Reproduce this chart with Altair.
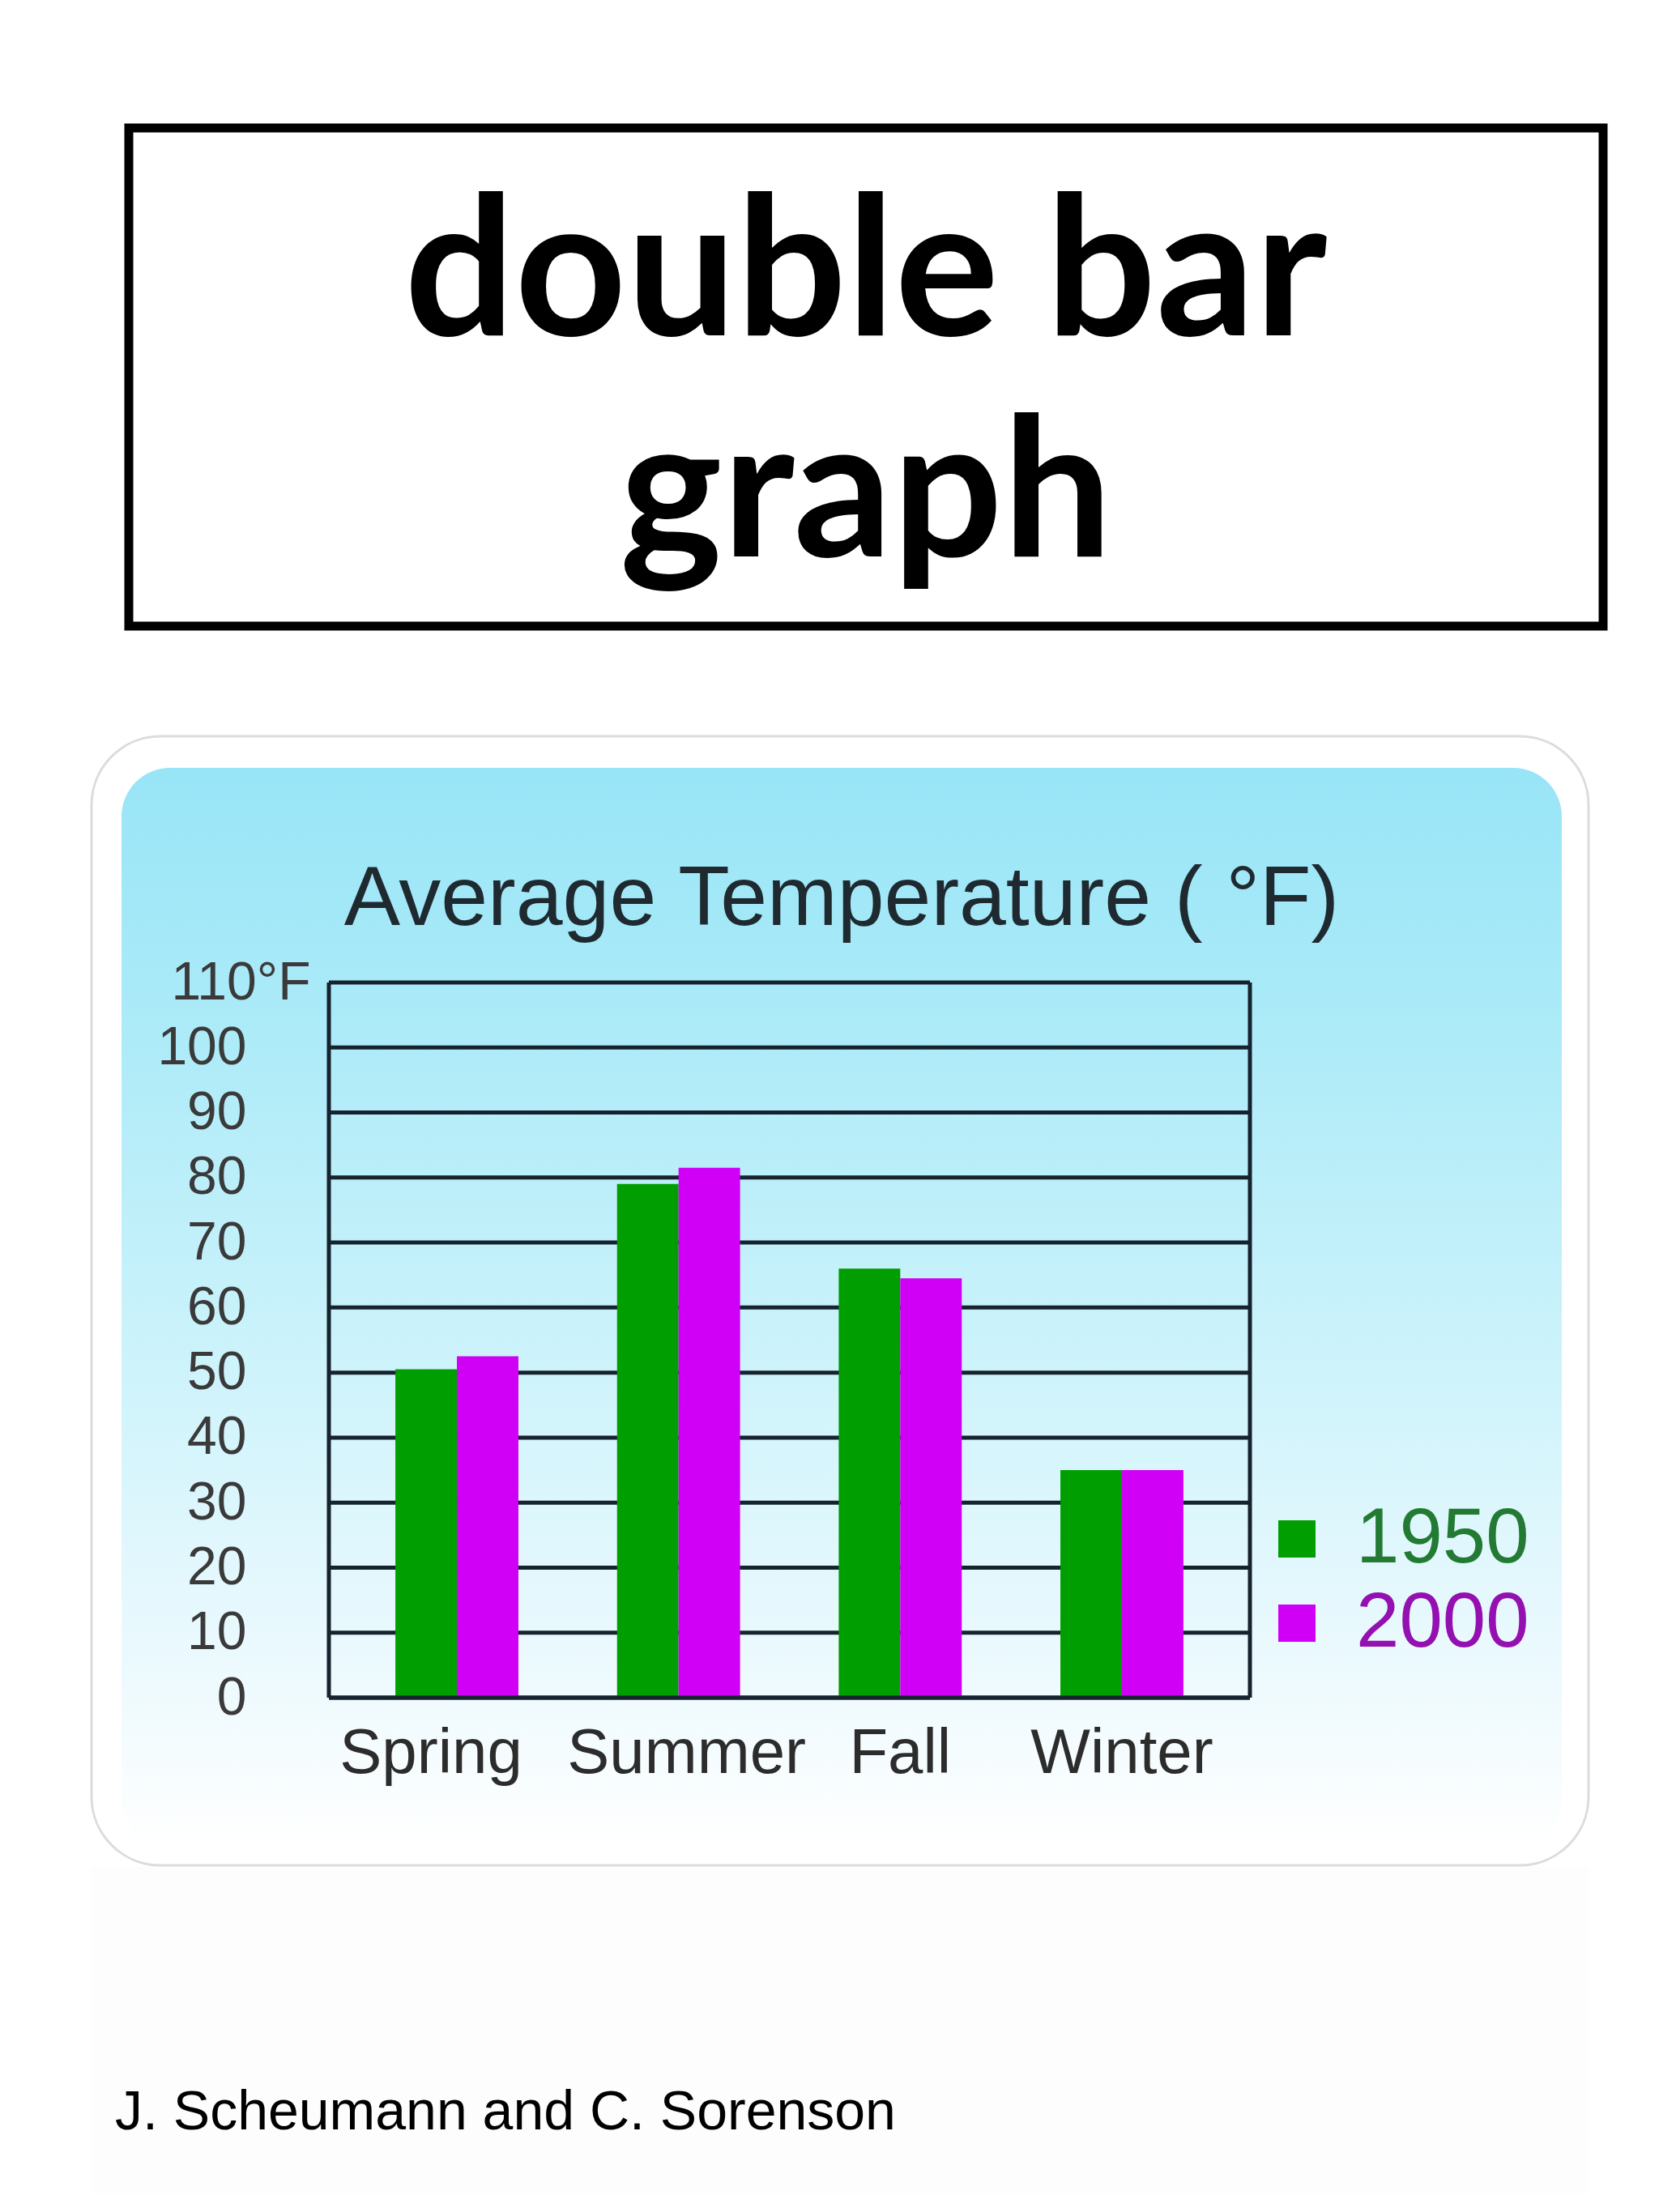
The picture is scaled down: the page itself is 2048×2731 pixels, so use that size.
import altair as alt
import pandas as pd

# ---- data ----
seasons = ["Spring", "Summer", "Fall", "Winter"]
years = ["1950", "2000"]
temps_1950 = [50.5, 79, 66, 35]
temps_2000 = [52.5, 81.5, 64.5, 35]
y_ticks = [0, 10, 20, 30, 40, 50, 60, 70, 80, 90, 100, 110]
bar_colors = ["#009e00", "#d000f6"]
legend_text_colors = ["#237a33", "#9410b0"]

heading_lines = ["double bar", "graph"]
chart_title = "Average Temperature ( °F)"
credit = "J. Scheumann and C. Sorenson"

W, H = 1137, 883
GRID = "#16232e"

rows = []
for s, a, b in zip(seasons, temps_1950, temps_2000):
    rows.append({"season": s, "year": years[0], "temp": a})
    rows.append({"season": s, "year": years[1], "temp": b})
df = pd.DataFrame(rows)
grid_df = pd.DataFrame({"temp": y_ticks})
base_df = pd.DataFrame({"temp": [0]})
one = pd.DataFrame({"k": [0]})

yscale = alt.Scale(domain=[0, 110], nice=False, zero=True)
yaxis = alt.Axis(
    values=y_ticks, grid=False, domain=False, ticks=False, tickSize=0,
    labelFont="Liberation Sans", labelFontSize=66, labelColor="#3a3a3a",
    labelBaseline="middle", labelOverlap=False, labelLimit=0,
    labelPadding={"condition": {"test": "datum.value == 110", "value": 23}, "value": 102},
    labelExpr="datum.value == 110 ? '110°F' : datum.label",
    title="", zindex=1,
)
xaxis = alt.Axis(
    domain=False, ticks=False, tickSize=0, labelAngle=0, labelLimit=0,
    labelFont="Liberation Sans", labelFontSize=78, labelColor="#2c2c2c",
    labelPadding=30, labelBaseline="top", labelOverlap=False,
    labelOffset={"condition": [
        {"test": "datum.value == 'Spring'", "value": -32},
        {"test": "datum.value == 'Summer'", "value": 10},
    ], "value": 0},
    title="", zindex=1,
)

color_expr = "datum.value == '%s' ? '%s' : '%s'" % (years[0], legend_text_colors[0], legend_text_colors[1])


def rect_layer(x1, x2, y1, y2, **kw):
    return alt.Chart(one).mark_rect(**kw).encode(
        x=alt.value(x1), x2=alt.value(x2), y=alt.value(y1), y2=alt.value(y2))


def text_layer(txt, x, y, **kw):
    return alt.Chart(one).mark_text(text=txt, **kw).encode(x=alt.value(x), y=alt.value(y))


gradient = alt.Gradient(
    gradient="linear", x1=0, x2=0, y1=0, y2=1,
    stops=[
        alt.GradientStop(color="#98e5f7", offset=0),
        alt.GradientStop(color="#adebf8", offset=0.25),
        alt.GradientStop(color="#cdf3fb", offset=0.55),
        alt.GradientStop(color="#eefafe", offset=0.85),
        alt.GradientStop(color="#ffffff", offset=1),
    ],
)

strip = rect_layer(-293, 1555, 1092, 1520, fill="#fdfdfe")
outer_panel = rect_layer(-293, 1555, -304, 1090, fill="white", stroke="#dcdcdc",
                         strokeWidth=3, cornerRadius=85)
inner_panel = rect_layer(-256, 1522, -265, 1067, fill=gradient, cornerRadius=60)
top_box = rect_layer(-247, 1573, -1055, -440, fill="white", stroke="black", strokeWidth=11)

head1 = text_layer(heading_lines[0], 663, -799, font="Lato", fontSize=240,
                   fontWeight="bold", align="center", baseline="alphabetic", color="black")
head2 = text_layer(heading_lines[1], 663, -526, font="Lato", fontSize=240,
                   fontWeight="bold", align="center", baseline="alphabetic", color="black")
title = text_layer(chart_title, 633, -71, font="Liberation Sans", fontSize=104,
                   align="center", baseline="alphabetic", color="#1f2a30")
footer = text_layer(credit, -264, 1416, font="Liberation Sans", fontSize=68,
                    align="left", baseline="alphabetic", color="black")

gridlines = alt.Chart(grid_df).mark_rule(color=GRID, strokeWidth=5).encode(
    y=alt.Y("temp:Q", scale=yscale, axis=yaxis))

bars = alt.Chart(df).mark_bar().encode(
    x=alt.X("season:N", sort=seasons,
            scale=alt.Scale(paddingInner=0.445, paddingOuter=0.3), axis=xaxis),
    xOffset=alt.XOffset("year:N", sort=years, scale=alt.Scale(paddingInner=0, paddingOuter=0)),
    y=alt.Y("temp:Q", scale=yscale, axis=yaxis),
    color=alt.Color(
        "year:N",
        scale=alt.Scale(domain=years, range=bar_colors),
        legend=alt.Legend(
            title=None, orient="none", legendX=1147, legendY=639,
            symbolType="square", symbolSize=2116, symbolStrokeWidth=0,
            labelFont="Liberation Sans", labelFontSize=96, labelOffset=25, labelLimit=0,
            labelColor={"expr": color_expr}, rowPadding=8, padding=0,
        ),
    ),
)

baseline_rule = alt.Chart(base_df).mark_rule(color=GRID, strokeWidth=5).encode(
    y=alt.Y("temp:Q", scale=yscale, axis=yaxis))
left_rule = alt.Chart(one).mark_rule(color=GRID, strokeWidth=5).encode(
    x=alt.value(0), y=alt.value(0), y2=alt.value(H))
right_rule = alt.Chart(one).mark_rule(color=GRID, strokeWidth=5).encode(
    x=alt.value(W), y=alt.value(0), y2=alt.value(H))

chart = alt.layer(
    strip, outer_panel, inner_panel, top_box, head1, head2, title,
    gridlines, bars, baseline_rule, left_rule, right_rule, footer,
).properties(
    width=W, height=H,
    autosize=alt.AutoSizeParams(type="none"),
    padding={"left": 398, "top": 1205, "right": 495, "bottom": 612},
    background="white",
).configure_view(strokeWidth=0)

chart.save("out.html", embed_options={"renderer": "svg", "actions": False})
